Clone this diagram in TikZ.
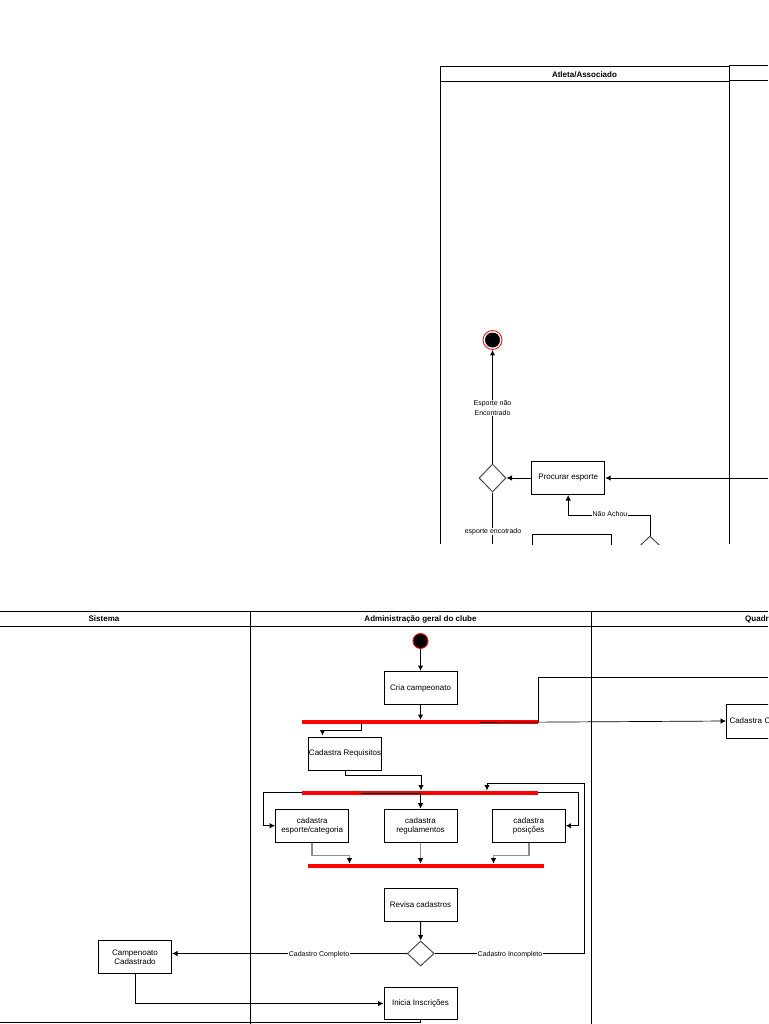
\documentclass[tikz,border=0pt]{standalone}
\usepackage{fontspec}
\setmainfont{Liberation Sans}
\usetikzlibrary{arrows.meta,shapes.geometric}
\tikzset{
  lane/.style={draw=black, line width=1pt},
  lanetitle/.style={font=\fontsize{8}{9.5}\selectfont\bfseries, inner sep=0pt},
  actbox/.style={draw=black, line width=1pt, fill=white, rectangle, inner sep=0pt, minimum width=73pt, minimum height=33pt, align=center, font=\fontsize{8}{9.5}\selectfont},
  decision/.style={draw=black!70, line width=1pt, fill=white, diamond, aspect=1, inner sep=0pt, minimum width=27pt, minimum height=26pt},
  forkbar/.style={fill=red, rectangle, inner sep=0pt, minimum width=236pt, minimum height=4pt},
  flow/.style={draw=black, line width=1pt, -{Latex[length=5.5pt,width=5.5pt,black]}},
  flowgray/.style={draw=black!45, line width=1.1pt, -{Latex[length=5.5pt,width=5.5pt,black]}},
  plain/.style={draw=black, line width=1pt},
  flowlabel/.style={fill=white, inner sep=0.5pt, align=center, font=\fontsize{7}{9.5}\selectfont}
}
\begin{document}
\begin{tikzpicture}[x=1pt,y=-1pt]
  \useasboundingbox (0,0) rectangle (768,1024);
  \clip (0,0) rectangle (768,1024);

  % upper page
  \begin{scope}
    \clip (430,0) rectangle (768,544);
    \draw[lane] (440,544) -- (440,67) -- (729,67) -- (729,544);
    \draw[lane] (440,82) -- (729,82);
    \draw[lane] (729,66) -- (768,66);
    \draw[lane] (729,81) -- (768,81);
    \node[lanetitle] (titleatleta) at (584.5,74.5) {Atleta/Associado};

    \node[circle, draw=red, fill=white, line width=0.8pt, minimum size=19pt, inner sep=0pt] (endring) at (492.5,340){};
    \node[circle, fill=black, minimum size=15pt, inner sep=0pt] (enddot) at (492.5,340){};
    \node[decision, minimum height=28pt] (decsport) at (492.5,478){};
    \node[actbox] (procurar) at (568.2,478) {Procurar esporte};
    \node[actbox, minimum width=79pt, anchor=north] (lowerbox) at (571.5,534){};
    \node[decision] (decachou) at (650,549){};
    \coordinate (edgeright) at (768,478);
    \coordinate (sportdown) at (492.5,544);

    \draw[flow] (edgeright) -- (procurar.east);
    \draw[flow] (procurar.west) -- (decsport.east);
    \draw[flow] (decsport.north) -- (endring.south);
    \draw[plain] (decsport.south) -- (sportdown);
    \draw[flow] (decachou.north) |- (568.2,515) -- (procurar.south);
    \node[flowlabel] (lblnaoenc) at (492.5,408) {Esporte não\\Encontrado};
    \node[flowlabel] (lblenc) at (493,531.5) {esporte encotrado};
    \node[flowlabel] (lblachou) at (610,514) {Não Achou};
  \end{scope}

  % lower page
  \draw[lane] (0,611.5) -- (768,611.5);
  \draw[lane] (0,626.5) -- (768,626.5);
  \draw[lane] (250,611.5) -- (250,1024);
  \draw[lane] (591.5,611.5) -- (591.5,1024);
  \node[lanetitle] (titlesistema) at (104,619) {Sistema};
  \node[lanetitle] (titleadmin) at (420.5,619) {Administração geral do clube};
  \node[lanetitle, anchor=west] (titlequadr) at (745,619) {Quadr};

  \node[circle, draw=red, fill=black, line width=0.8pt, minimum size=15pt, inner sep=0pt] (startdot) at (420.5,641){};
  \node[actbox] (cria) at (420.5,688) {Cria campeonato};
  \node[forkbar] (bartop) at (420,721.5){};
  \node[actbox] (requisitos) at (345,753.5) {Cadastra Requisitos};
  \node[forkbar] (barmid) at (420,792.5){};
  \node[actbox] (esporte) at (312.2,825.7) {cadastra\\esporte/categoria};
  \node[actbox] (regul) at (420.5,825.7) {cadastra\\regulamentos};
  \node[actbox] (posicoes) at (528.7,825.7) {cadastra\\posições};
  \node[forkbar] (barlow) at (426.3,865.5){};
  \node[actbox] (revisa) at (420.5,904.7) {Revisa cadastros};
  \node[decision, minimum height=25pt] (decrev) at (420.7,953.5){};
  \node[actbox] (campeonato) at (135,957) {Campenoato\\Cadastrado};
  \node[actbox, minimum height=32pt] (inicia) at (420.5,1003.5) {Inicia Inscrições};
  \node[actbox, anchor=west, minimum width=80pt, minimum height=34pt, text width=77pt, align=left] (cadastrac) at (726,721) {\hspace*{1.5pt}Cadastra C};

  \coordinate (barreq) at (361,723);
  \coordinate (reqin) at (322.5,735.5);
  \coordinate (midin) at (421,790.5);
  \coordinate (midout) at (361,793.5);
  \coordinate (loopin) at (487,790.5);
  \coordinate (loopup) at (584.5,783);
  \coordinate (esplow) at (349.5,863.7);
  \coordinate (poslow) at (493.5,863.7);
  \coordinate (esptop) at (312,842.5);
  \coordinate (postop) at (529,842.5);
  \coordinate (topright) at (768,677.5);
  \coordinate (barc) at (480,722.5);
  \coordinate (leftout) at (0,1022.5);

  \draw[flow] (startdot.south) -- (cria.north);
  \draw[flow] (cria.south) -- (420.5,720);
  \draw[flow] (barreq) |- (322.5,730.5) -- (reqin);
  \draw[flow] (requisitos.south) |- (421,775) -- (midin);
  \draw[plain] (bartop.east) |- (topright);
  \draw[flow, line width=0.7pt] (barc) -- (cadastrac.west);

  \draw[flow] (barmid.west) -| (263.5,825.7) -- (esporte.west);
  \draw[flow] (barmid.east) -| (578.5,825.7) -- (posicoes.east);
  \draw[flow] (midout) -| (regul.north);
  \draw[flowgray] (esptop) |- (349.5,855.5) -- (esplow);
  \draw[flowgray] (regul.south) -- (420.5,863.7);
  \draw[flowgray] (postop) |- (493.5,855.5) -- (poslow);

  \draw[flow] (revisa.south) -- (decrev.north);
  \draw[flow] (decrev.west) -- (campeonato.east |- decrev.west);
  \draw[flow] (decrev.east) -| (loopup) -| (loopin);
  \draw[flow] (campeonato.south) |- (inicia.west);
  \draw[plain] (inicia.south) |- (leftout);

  \node[flowlabel] (lblcompleto) at (319,955) {Cadastro Completo};
  \node[flowlabel] (lblincompleto) at (510,955) {Cadastro Incompleto};
\end{tikzpicture}
\end{document}
